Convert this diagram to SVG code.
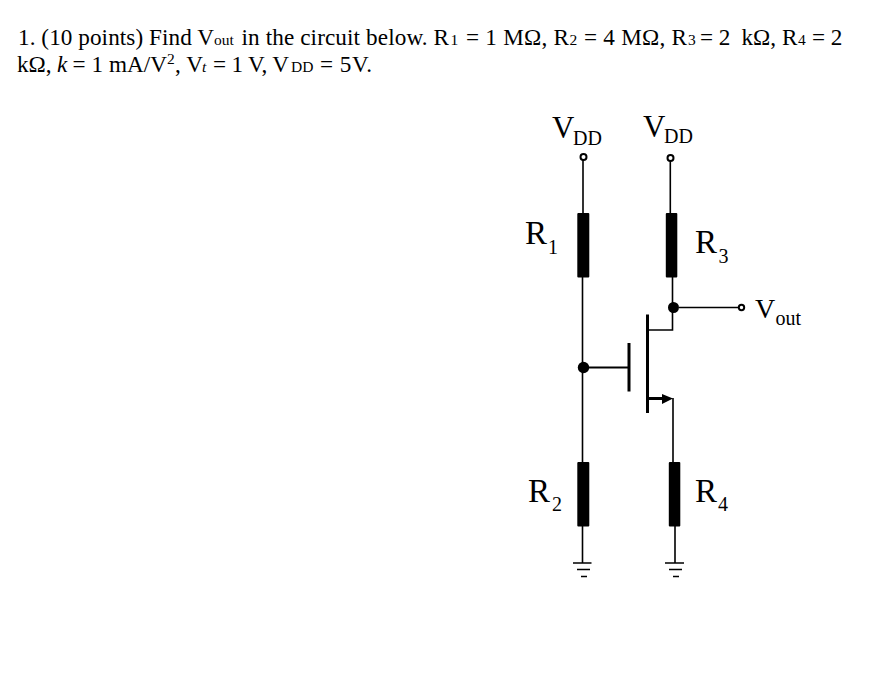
<svg xmlns="http://www.w3.org/2000/svg" width="894" height="689" viewBox="0 0 894 689">
<style>
text{font-family:"Liberation Serif","Times New Roman",serif;fill:#000}
.t{font-size:23.2px}
.s{font-size:15.5px}
.l{font-size:31px}
.r{font-size:33px}
.ls{font-size:20px}
.w{stroke:#000;stroke-width:1.6;fill:none}
.g{stroke:#000;stroke-width:2;fill:none}
.w2{stroke:#000;stroke-width:3;fill:none}
.o{stroke:#000;stroke-width:2;fill:#fff}
</style>
<rect width="894" height="689" fill="#fff"/>
<g id="question">
<text class="t" x="18" y="45" textLength="196">1. (10 points) Find V</text><text class="s" x="214" y="45">out</text><text class="t" x="241.5" y="45" textLength="207.5">in the circuit below. R</text><text class="s" x="450.5" y="45">1</text><text class="t" x="466" y="45" textLength="103">= 1 MΩ, R</text><text class="s" x="569.5" y="45">2</text><text class="t" x="584" y="45" textLength="103">= 4 MΩ, R</text><text class="s" x="688" y="45">3</text><text class="t" x="700" y="45">= 2</text><text class="t" x="741.5" y="45">kΩ, R</text><text class="s" x="798" y="45">4</text><text class="t" x="812" y="45">= 2</text>
<text class="t" x="17" y="72">kΩ, </text><text class="t" x="57" y="72" font-style="italic">k</text><text class="t" x="72.5" y="72" textLength="94.5">= 1 mA/V</text><text class="s" x="167" y="64">2</text><text class="t" x="175" y="72">, V</text><text class="s" x="202" y="72" font-style="italic">t</text><text class="t" x="213" y="72" textLength="76">= 1 V, V</text><text class="s" x="291" y="72">DD</text><text class="t" x="320" y="72" textLength="52">= 5V.</text>
</g>
<g id="connectors">
<path class="w" d="M583 160V213M582.5 277V462M582.5 526V563"/>
<path class="w" d="M670.3 161V213M672.5 277V330H648M679 307.5H739M673 398V462M675 526V563"/>
<path class="g" d="M588 367.5H629"/>
</g>
<g id="vdd1"><circle class="o" cx="583.5" cy="157" r="3"/><text class="l" x="552" y="138">V</text><text class="ls" x="573" y="145">DD</text></g>
<g id="vdd2"><circle class="o" cx="670.5" cy="158" r="3"/><text class="l" x="643" y="137">V</text><text class="ls" x="664" y="143">DD</text></g>
<g id="r1"><rect x="577.3" y="213" width="12" height="64.5" rx="1"/><text class="r" x="525" y="244">R</text><text class="ls" x="548" y="254">1</text></g>
<g id="r3"><rect x="665.8" y="213" width="11.5" height="64.5" rx="1"/><text class="r" x="695" y="253">R</text><text class="ls" x="718.5" y="263">3</text></g>
<g id="r2"><rect x="577.3" y="462" width="12" height="64.5" rx="1"/><text class="r" x="528" y="501.5">R</text><text class="ls" x="552" y="511">2</text></g>
<g id="r4"><rect x="668.8" y="462" width="11.5" height="64.5" rx="1"/><text class="r" x="695" y="501.5">R</text><text class="ls" x="718" y="511">4</text></g>
<g id="vout"><circle cx="673.5" cy="307.5" r="5.5"/><circle class="o" cx="741.5" cy="307.5" r="2.7"/><text class="l" x="755" y="318" style="font-size:28px">V</text><text class="ls" x="775.5" y="325">out</text></g>
<g id="gate-node"><circle cx="583.5" cy="367.5" r="5.7"/></g>
<g id="mosfet">
<path class="w2" d="M629 343V391.5M647.5 314.5V413M648 398.5H663"/>
<path d="M662 394L673 398.5L662 404Z"/>
</g>
<g id="gnd1"><path class="w" d="M573 563H591.5M577 569.5H590M581 576.5H587"/></g>
<g id="gnd2"><path class="w" d="M665 563H684M669 569.5H682M673 576.5H679"/></g>
</svg>
